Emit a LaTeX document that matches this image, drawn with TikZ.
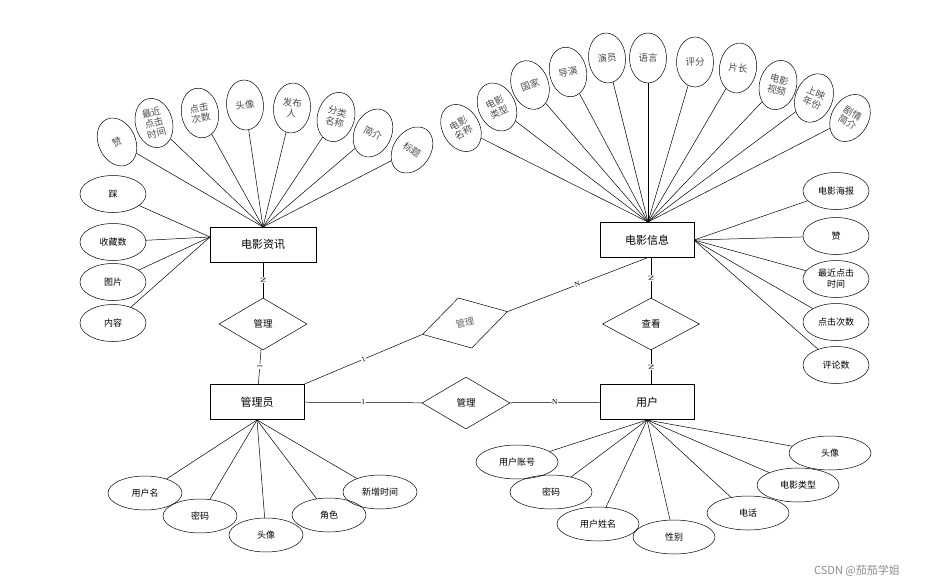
\documentclass[tikz,border=0pt]{standalone}
\usepackage{fontspec}
\setmainfont{Liberation Serif}
\newfontfamily\cjk{Noto Sans CJK SC}
\usetikzlibrary{shapes.geometric}
\begin{document}
\begin{tikzpicture}[x=1pt,y=1pt,
  ent/.style={draw,thick,minimum width=94pt,minimum height=35pt,font=\cjk\fontsize{11}{13}\selectfont},
  rel/.style={draw,diamond,aspect=1.7,minimum width=88pt,minimum height=52pt,inner sep=0pt,font=\cjk\fontsize{9.5}{11}\selectfont},
  tat/.style={draw,ellipse,minimum width=37pt,minimum height=50pt,inner sep=0pt,align=center,font=\cjk\fontsize{9.5}{10.5}\selectfont,text=black!70},
  hat/.style={draw,ellipse,minimum width=68pt,minimum height=37pt,inner sep=0pt,font=\cjk\fontsize{9}{11}\selectfont},
  lab/.style={fill=white,inner sep=0.5pt,font=\fontsize{7.5}{8}\selectfont,sloped},
  every path/.style={line width=0.5pt}]
\useasboundingbox (0,0) rectangle (929,-586);
% entities
\node[ent,minimum width=106pt] (zx) at (263,-244.5) {电影资讯};
\node[ent] (xx) at (647,-240) {电影信息};
\node[ent] (gly) at (257,-402) {管理员};
\node[ent] (yh) at (647,-402) {用户};
% relations
\node[rel] (r1) at (263,-324) {管理};
\node[rel,rotate=15,text=black!60] (r2) at (465,-323) {管理};
\node[rel,minimum width=97pt] (r3) at (651,-324) {查看};
\node[rel] (r4) at (466,-403) {管理};
\draw (zx) -- node[lab,pos=0.5]{N} (r1);
\draw (r1) -- node[lab,pos=0.5]{1} (gly);
\draw (gly.north east) -- node[lab,pos=0.5]{1} (r2.west);
\draw (r2.east) -- node[lab,pos=0.5]{N} (xx.south);
\draw (gly) -- node[lab,pos=0.5]{1} (r4);
\draw (r4) -- node[lab,pos=0.5]{N} (yh);
\draw (xx.south -| r3) -- node[lab,pos=0.5]{N} (r3);
\draw (r3) -- node[lab,pos=0.5]{N} (yh.north -| r3);
% hubs
\coordinate (h1) at (263,-227);
\coordinate (h1w) at (210,-237);
\coordinate (h2) at (648,-222);
\coordinate (h2e) at (694,-240);
\coordinate (h3) at (257,-420);
\coordinate (h4) at (647,-420);
% top-left attributes
\foreach \n/\x/\y/\r/\t in {a1/117/142/25/赞, a2/154/123/15/最近\\点击\\时间, a3/200/113/10/点击\\次数, a4/245/105/5/头像, a5/292/108/-5/发布\\人, a6/336/117/-15/分类\\名称, a7/373/133/-25/简介, a8/412/150/-35/标题}
  {\node[tat,rotate=\r] (\n) at (\x,-\y) {\t}; \draw (\n) -- (h1);}
% left attributes
\foreach \n/\y/\t in {b1/194/踩, b2/242/收藏数, b3/282/图片, b4/323/内容}
  {\node[hat,minimum width=66pt] (\n) at (113,-\y) {\t}; \draw (\n) -- (h1w);}
% top-right attributes
\foreach \n/\x/\y/\r/\t in {c1/461/128/30/电影\\名称, c2/497/107/25/电影\\类型, c3/530/85/20/国家, c4/568/72/12/导演, c5/607/58/5/演员, c6/648/58/0/语言, c7/695/62/0/评分, c8/738/68/-8/片长, c9/778/85/-15/电影\\视频, c10/814/98/-22/上映\\年份, c11/850/118/-30/剧情\\简介}
  {\node[tat,rotate=\r] (\n) at (\x,-\y) {\t}; \draw (\n) -- (h2);}
% right attributes
\foreach \n/\y/\t in {d1/191/电影海报, d2/236/赞, d3/279/{最近点击\\时间}, d4/322/点击次数, d5/365/评论数}
  {\node[hat,minimum width=66pt,align=center] (\n) at (836,-\y) {\t}; \draw (\n) -- (h2e);}
% admin attributes
\foreach \n/\x/\y/\t in {e1/145/493/用户名, e2/200/516/密码, e3/266/535/头像, e4/329/515/角色, e5/380/492/新增时间}
  {\node[hat,minimum width=74pt,minimum height=34pt] (\n) at (\x,-\y) {\t}; \draw (\n) -- (h3);}
% user attributes
\foreach \n/\x/\y/\t in {f1/517/462/用户账号, f2/551/492/密码, f3/598/524/用户姓名, f4/674/537/性别, f5/748/513/电话, f6/798/485/电影类型, f7/830/453/头像}
  {\node[hat,minimum width=82pt,minimum height=34pt] (\n) at (\x,-\y) {\t}; \draw (\n) -- (h4);}
\node[font=\cjk\fontsize{11}{13}\selectfont,text=black!45] (wm) at (857,-571) {CSDN @茄茄学姐};
\end{tikzpicture}
\end{document}
